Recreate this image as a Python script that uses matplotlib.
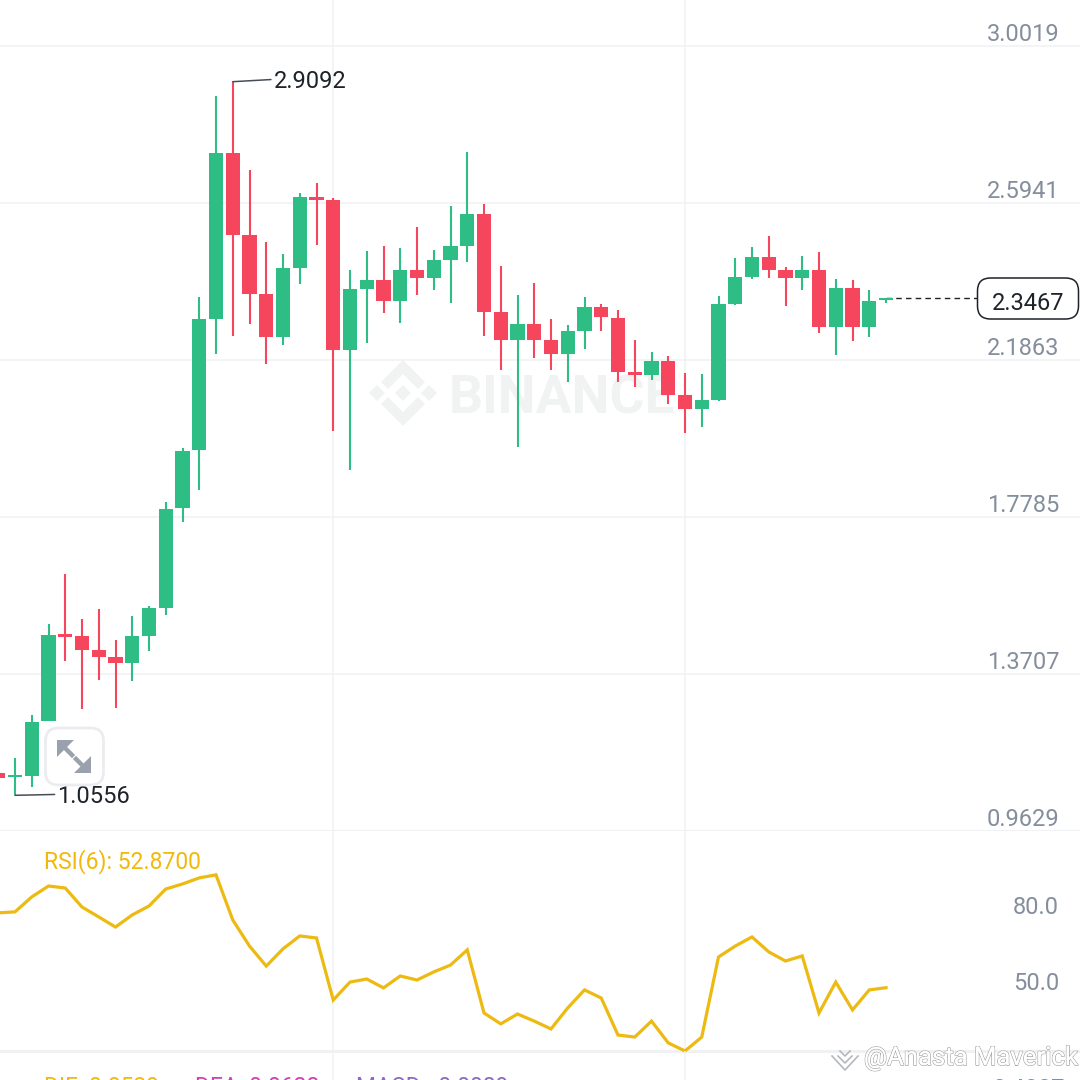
import matplotlib
matplotlib.use('Agg')
import matplotlib.pyplot as plt
import matplotlib.patheffects as pe
from matplotlib.patches import FancyBboxPatch, Polygon
from matplotlib.lines import Line2D
import numpy as np

plt.rcParams['font.family'] = ['Roboto', 'DejaVu Sans']

opens = [1.114, 1.103, 1.106, 1.249, 1.474, 1.469, 1.433, 1.415, 1.399, 1.469, 1.542, 1.802, 1.953, 2.293,
         2.724, 2.511, 2.358, 2.246, 2.425, 2.610, 2.602, 2.212, 2.371, 2.394, 2.340, 2.420, 2.399, 2.446,
         2.482, 2.566, 2.311, 2.238, 2.280, 2.238, 2.202, 2.262, 2.324, 2.295, 2.155, 2.147, 2.184, 2.095,
         2.059, 2.082, 2.332, 2.402, 2.454, 2.420, 2.399, 2.420, 2.272, 2.373, 2.272, 2.342]
closes = [1.100, 1.108, 1.246, 1.472, 1.467, 1.433, 1.415, 1.399, 1.469, 1.542, 1.799, 1.950, 2.293, 2.724,
          2.511, 2.358, 2.246, 2.425, 2.610, 2.602, 2.212, 2.371, 2.394, 2.340, 2.420, 2.399, 2.446, 2.482,
          2.566, 2.311, 2.238, 2.280, 2.238, 2.202, 2.262, 2.324, 2.298, 2.155, 2.147, 2.184, 2.095, 2.059,
          2.082, 2.332, 2.402, 2.454, 2.420, 2.399, 2.420, 2.272, 2.373, 2.272, 2.340, 2.3467]
highs = [1.114, 1.153, 1.264, 1.501, 1.630, 1.514, 1.539, 1.459, 1.521, 1.547, 1.817, 1.958, 2.350, 2.872,
         2.9092, 2.680, 2.493, 2.462, 2.620, 2.646, 2.607, 2.420, 2.469, 2.482, 2.477, 2.532, 2.472, 2.586,
         2.727, 2.592, 2.431, 2.355, 2.386, 2.293, 2.277, 2.350, 2.332, 2.316, 2.238, 2.207, 2.197, 2.153,
         2.150, 2.353, 2.451, 2.480, 2.508, 2.428, 2.456, 2.467, 2.397, 2.394, 2.368, 2.3467]
lows = [1.100, 1.0556, 1.077, 1.249, 1.404, 1.280, 1.355, 1.282, 1.352, 1.430, 1.524, 1.766, 1.849, 2.202,
        2.249, 2.280, 2.176, 2.225, 2.384, 2.485, 2.002, 1.901, 2.230, 2.308, 2.282, 2.355, 2.368, 2.334,
        2.441, 2.249, 2.160, 1.960, 2.192, 2.160, 2.129, 2.215, 2.262, 2.129, 2.116, 2.134, 2.072, 1.997,
        2.012, 2.080, 2.329, 2.397, 2.399, 2.327, 2.368, 2.256, 2.199, 2.236, 2.246, 2.334]
rsi = [82.4, 82.8, 88.7, 93.0, 92.2, 84.7, 80.8, 76.8, 81.6, 85.1, 91.8, 93.8, 96.2, 97.4,
       79.6, 69.3, 61.4, 68.2, 73.3, 72.5, 48.0, 55.1, 56.3, 52.8, 57.5, 55.9, 59.1, 61.8,
       67.8, 42.9, 38.6, 42.5, 39.7, 36.6, 44.9, 52.0, 48.8, 34.2, 33.4, 39.7, 31.1, 27.9,
       33.4, 65.0, 69.3, 72.9, 67.0, 63.4, 65.4, 42.9, 55.1, 44.1, 52.0, 52.87]
price_ticks = [3.0019, 2.5941, 2.1863, 1.7785, 1.3707, 0.9629]
rsi_ticks = [80.0, 50.0]
vgrid = [19, 40]

GREEN = '#2EBD85'
RED = '#F6465D'
GRID = '#EFF1F3'
GREY = '#848E9C'
DARK = '#1E2329'
YELLOW = '#F0B90B'
FAINT = '#F1F2F2'


def px(x, y):
    # pixel from top-left to figure coords
    return x / 1080, 1 - y / 1080


def add_axes_px(top, bottom):
    a = fig.add_axes([0, 1 - bottom / 1080, 1, (bottom - top) / 1080])
    a.patch.set_visible(False)
    a.set_xlim(-15 / 16.75, 1065 / 16.75)
    a.set_xticks([])
    for s in a.spines.values():
        s.set_visible(False)
    for v in vgrid:
        a.axvline(v, color=GRID, lw=1.1, zorder=0)
    return a


def style_ticks(a):
    a.yaxis.tick_right()
    a.tick_params(axis='y', length=0, pad=-15, labelsize=17, labelcolor=GREY)
    for lab in a.get_yticklabels():
        lab.set_ha('right')
        lab.set_va('bottom')


def fig_poly(points, **kw):
    fig.patches.append(Polygon([px(*p) for p in points], closed=True, transform=fig.transFigure, **kw))


def fig_line(xs_, ys_, **kw):
    fig.add_artist(Line2D([x / 1080 for x in xs_], [1 - y / 1080 for y in ys_], **kw))


fig = plt.figure(figsize=(10.8, 10.8), dpi=100)
xs = np.arange(-1, len(opens) - 1)
opens_a, closes_a = np.array(opens), np.array(closes)
colors = [GREEN if c >= o else RED for o, c in zip(opens, closes)]

# background watermark
cx, cy = 403, 393
for dx in (-26, 0, 26):
    fig_poly([(cx + dx - 8, cy), (cx + dx, cy - 8), (cx + dx + 8, cy), (cx + dx, cy + 8)], fc=FAINT, ec='none', zorder=-1)
for sgn in (-1, 1):
    fig_poly([(cx, cy + sgn * 33), (cx + 22, cy + sgn * 11), (cx + 15, cy + sgn * 4), (cx, cy + sgn * 19),
              (cx - 15, cy + sgn * 4), (cx - 22, cy + sgn * 11)], fc=FAINT, ec='none', zorder=-1)
fig.text(*px(449, 413), 'BINANCE', fontsize=38.5, fontweight='bold', color=FAINT, va='baseline', zorder=-1)

# candles
ax = add_axes_px(0, 831)
ax.set_ylim(price_ticks[-1], 3.1214)
ax.set_yticks(price_ticks, [f'{t:.4f}' for t in price_ticks])
ax.grid(axis='y', color=GRID, lw=1.1)
ax.set_axisbelow(True)
style_ticks(ax)
ax.axhline(price_ticks[-1], color=GRID, lw=2.2)
ax.vlines(xs, lows, highs, colors=colors, lw=1.5, zorder=2)
ax.bar(xs, np.abs(closes_a - opens_a), bottom=np.minimum(opens_a, closes_a), width=0.84, color=colors, zorder=3)

# high / low markers
hi = int(np.argmax(highs))
lo = int(np.argmin(lows))
ax.annotate(f'{highs[hi]:.4f}', xy=(xs[hi], highs[hi]), xytext=(29.5, 0), textcoords='offset points', fontsize=17,
            color=DARK, va='center', arrowprops=dict(arrowstyle='-', color='#474D57', lw=1.1, shrinkA=0, shrinkB=0,
                                                      relpos=(0, 0.6)))
ax.annotate(f'{lows[lo]:.4f}', xy=(xs[lo], lows[lo]), xytext=(30.5, -1), textcoords='offset points', fontsize=17,
            color=DARK, va='center', arrowprops=dict(arrowstyle='-', color='#474D57', lw=1.1, shrinkA=0, shrinkB=0,
                                                      relpos=(0, 0.6)))

# last price
ax.plot([xs[-1], 962 / 16.75 + 0], [closes[-1], closes[-1]], color=DARK, lw=1, ls=(0, (4, 3)), zorder=1)
fig.patches.append(FancyBboxPatch(px(977.5, 319), 101 / 1080, 41 / 1080, boxstyle='round,pad=0,rounding_size=0.012',
                                  transform=fig.transFigure, fc='white', ec=DARK, lw=1.1))
fig.text(*px(1028, 303), f'{closes[-1]:.4f}', fontsize=17, color=DARK, ha='center', va='center')

# expand button
fig.patches.append(FancyBboxPatch(px(45.5, 785), 58 / 1080, 57 / 1080, boxstyle='round,pad=0,rounding_size=0.012',
                                  transform=fig.transFigure, fc='white', ec='#EAECEF', lw=2))
ICON = '#9AA1AC'
fig_poly([(57, 740), (74, 740), (57, 757)], fc=ICON, ec='none')
fig_poly([(91, 773), (74, 773), (91, 756)], fc=ICON, ec='none')
fig_line([62, 72], [745, 755], color=ICON, lw=3.2)
fig_line([76, 86], [759, 769], color=ICON, lw=3.2)

# RSI panel
ax2 = add_axes_px(831, 1051)
ax2.set_ylim(27.9, 114.7)
ax2.set_yticks(rsi_ticks, [f'{t:.1f}' for t in rsi_ticks])
style_ticks(ax2)
ax2.axhline(27.9, color=GRID, lw=2.2, clip_on=False)
ax2.plot(xs, rsi, color='#EDBA12', lw=2.3, solid_joinstyle='miter', clip_on=False, zorder=3)
fig.text(*px(44, 862), f'RSI(6): {rsi[-1]:.4f}', fontsize=16.5, color=YELLOW, va='center')

# MACD panel, mostly cut off by the picture edge
ax3 = add_axes_px(1051, 1080)
ax3.set_yticks([])
fig.text(*px(44, 1088), 'DIF: 0.0539', fontsize=16.5, color=YELLOW, va='center')
fig.text(*px(195, 1088), 'DEA: 0.0628', fontsize=16.5, color='#D340B3', va='center')
fig.text(*px(356, 1088), 'MACD: -0.0089', fontsize=16.5, color='#8A6BC1', va='center')
fig.text(*px(1065, 1090), '0.4387', fontsize=17, color=GREY, ha='right', va='center')

# repost credit
CHEV = '#B5B8BC'
fig_line([832, 845, 858], [1056, 1070, 1056], color=CHEV, lw=1.2)
fig_line([838, 845, 852], [1056, 1063, 1056], color=CHEV, lw=1.2)
fig_line([840, 845, 850], [1051, 1056, 1051], color=CHEV, lw=1.2)
fig.text(*px(864, 1058), '@Anasta Maverick', fontsize=18.5, color='white', va='center',
         path_effects=[pe.withStroke(linewidth=1.1, foreground='#A8A8A8'), pe.Normal()])

fig.savefig('out.png', dpi=100)
